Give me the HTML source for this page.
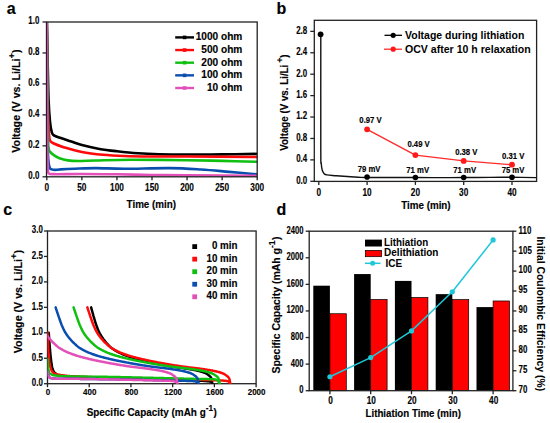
<!DOCTYPE html>
<html><head><meta charset="utf-8"><style>
html,body{margin:0;padding:0;background:#fff;width:550px;height:423px;overflow:hidden}
svg{display:block}
text{font-family:"Liberation Sans", sans-serif;stroke:#000;stroke-width:0.15px}
</style></head><body>
<svg width="550" height="423" viewBox="0 0 550 423">
<defs>
<clipPath id="clipa"><rect x="46.5" y="22.0" width="210.7" height="154.8"/></clipPath>
<clipPath id="clipc"><rect x="47.5" y="231.0" width="208.60000000000002" height="152.7"/></clipPath>
</defs>
<rect width="550" height="423" fill="#fff"/>
<text transform="translate(11.30 14.40)" font-size="16" text-anchor="middle" font-weight="bold" fill="#000" >a</text>
<g clip-path="url(#clipa)">
<path d="M46.80,22.00 C46.94,28.45 47.35,47.80 47.64,60.70 C47.93,73.60 48.17,89.34 48.55,99.40 C48.94,109.46 49.43,115.65 49.96,121.07 C50.48,126.49 51.07,129.53 51.71,131.91 C52.35,134.28 52.29,134.28 53.81,135.31 C55.33,136.35 57.90,137.07 60.83,138.10 C63.75,139.13 67.84,140.34 71.35,141.51 C74.85,142.67 77.19,143.83 81.87,145.07 C86.54,146.30 93.56,147.90 99.40,148.94 C105.24,149.97 110.50,150.54 116.93,151.26 C123.36,151.98 130.96,152.78 137.97,153.27 C144.99,153.76 150.83,153.99 159.01,154.20 C167.20,154.41 176.55,154.48 187.07,154.51 C197.59,154.53 210.44,154.46 222.13,154.35 C233.82,154.25 251.36,153.97 257.20,153.89" fill="none" stroke="#000" stroke-width="2.6" stroke-linejoin="round" stroke-linecap="round" />
<path d="M46.80,22.00 C46.89,29.74 47.15,53.48 47.36,68.44 C47.57,83.40 47.81,101.21 48.06,111.78 C48.32,122.36 48.59,127.14 48.90,131.91 C49.22,136.68 49.14,138.49 49.96,140.42 C50.77,142.36 51.42,142.36 53.81,143.52 C56.21,144.68 59.66,145.97 64.33,147.39 C69.01,148.81 75.44,150.79 81.87,152.03 C88.30,153.27 95.89,154.15 102.91,154.82 C109.92,155.49 115.76,155.77 123.95,156.06 C132.13,156.34 141.48,156.44 152.00,156.52 C162.52,156.60 169.53,156.44 187.07,156.52 C204.60,156.60 245.51,156.91 257.20,156.99" fill="none" stroke="#ff0a0a" stroke-width="2.6" stroke-linejoin="round" stroke-linecap="round" />
<path d="M46.80,22.00 C46.86,29.74 47.01,52.96 47.15,68.44 C47.29,83.92 47.44,101.98 47.64,114.88 C47.84,127.78 47.90,139.65 48.34,145.84 C48.79,152.03 49.39,150.48 50.31,152.03 C51.22,153.58 52.29,154.10 53.81,155.13 C55.33,156.16 57.09,157.35 59.42,158.22 C61.76,159.10 64.68,159.93 67.84,160.39 C71.00,160.86 73.68,160.98 78.36,161.01 C83.04,161.04 87.13,160.75 95.89,160.55 C104.66,160.34 115.76,159.82 130.96,159.77 C146.16,159.72 171.87,160.06 187.07,160.24 C202.26,160.42 210.44,160.60 222.13,160.86 C233.82,161.11 251.36,161.63 257.20,161.78" fill="none" stroke="#10c010" stroke-width="2.6" stroke-linejoin="round" stroke-linecap="round" />
<path d="M46.80,22.00 C46.85,32.32 46.96,64.57 47.08,83.92 C47.20,103.27 47.31,125.72 47.50,138.10 C47.69,150.48 47.85,153.32 48.20,158.22 C48.55,163.13 49.02,165.65 49.61,167.51 C50.19,169.37 50.77,168.98 51.71,169.37 C52.64,169.76 53.70,169.83 55.22,169.83 C56.74,169.83 57.55,169.55 60.83,169.37 C64.10,169.19 69.01,168.96 74.85,168.75 C80.70,168.54 87.71,168.13 95.89,168.13 C104.08,168.13 111.67,168.75 123.95,168.75 C136.22,168.75 156.68,168.00 169.53,168.13 C182.39,168.26 191.16,168.91 201.09,169.52 C211.03,170.14 219.80,171.05 229.15,171.85 C238.50,172.65 252.52,173.91 257.20,174.32" fill="none" stroke="#0a4fb0" stroke-width="2.6" stroke-linejoin="round" stroke-linecap="round" />
<path d="M46.80,22.00 C46.84,32.32 46.92,63.28 47.01,83.92 C47.10,104.56 47.22,131.65 47.36,145.84 C47.50,160.03 47.59,164.47 47.85,169.06 C48.11,173.65 47.91,172.54 48.90,173.39 C49.90,174.25 48.32,174.07 53.81,174.17 C59.31,174.27 71.35,173.99 81.87,174.01 C92.39,174.04 105.24,174.17 116.93,174.32 C128.62,174.48 140.31,174.79 152.00,174.94 C163.69,175.10 169.53,175.10 187.07,175.25 C204.60,175.41 245.51,175.77 257.20,175.87" fill="none" stroke="#e250b8" stroke-width="2.6" stroke-linejoin="round" stroke-linecap="round" />
</g>
<rect x="46.5" y="22.0" width="210.70" height="154.80" fill="none" stroke="#222" stroke-width="1.3"/>
<line x1="42.50" y1="176.80" x2="46.50" y2="176.80" stroke="#222" stroke-width="1.3" />
<text transform="translate(39.30 179.20) scale(0.79 1)" font-size="10.0" text-anchor="end" font-weight="bold" fill="#000" >0.0</text>
<line x1="42.50" y1="145.84" x2="46.50" y2="145.84" stroke="#222" stroke-width="1.3" />
<text transform="translate(39.30 148.24) scale(0.79 1)" font-size="10.0" text-anchor="end" font-weight="bold" fill="#000" >0.2</text>
<line x1="42.50" y1="114.88" x2="46.50" y2="114.88" stroke="#222" stroke-width="1.3" />
<text transform="translate(39.30 117.28) scale(0.79 1)" font-size="10.0" text-anchor="end" font-weight="bold" fill="#000" >0.4</text>
<line x1="42.50" y1="83.92" x2="46.50" y2="83.92" stroke="#222" stroke-width="1.3" />
<text transform="translate(39.30 86.32) scale(0.79 1)" font-size="10.0" text-anchor="end" font-weight="bold" fill="#000" >0.6</text>
<line x1="42.50" y1="52.96" x2="46.50" y2="52.96" stroke="#222" stroke-width="1.3" />
<text transform="translate(39.30 55.36) scale(0.79 1)" font-size="10.0" text-anchor="end" font-weight="bold" fill="#000" >0.8</text>
<line x1="42.50" y1="22.00" x2="46.50" y2="22.00" stroke="#222" stroke-width="1.3" />
<text transform="translate(39.30 24.40) scale(0.79 1)" font-size="10.0" text-anchor="end" font-weight="bold" fill="#000" >1.0</text>
<line x1="46.80" y1="176.80" x2="46.80" y2="180.30" stroke="#222" stroke-width="1.3" />
<text transform="translate(46.80 191.30) scale(0.81 1)" font-size="10.2" text-anchor="middle" font-weight="bold" fill="#000" >0</text>
<line x1="81.87" y1="176.80" x2="81.87" y2="180.30" stroke="#222" stroke-width="1.3" />
<text transform="translate(81.87 191.30) scale(0.81 1)" font-size="10.2" text-anchor="middle" font-weight="bold" fill="#000" >50</text>
<line x1="116.93" y1="176.80" x2="116.93" y2="180.30" stroke="#222" stroke-width="1.3" />
<text transform="translate(116.93 191.30) scale(0.81 1)" font-size="10.2" text-anchor="middle" font-weight="bold" fill="#000" >100</text>
<line x1="152.00" y1="176.80" x2="152.00" y2="180.30" stroke="#222" stroke-width="1.3" />
<text transform="translate(152.00 191.30) scale(0.81 1)" font-size="10.2" text-anchor="middle" font-weight="bold" fill="#000" >150</text>
<line x1="187.07" y1="176.80" x2="187.07" y2="180.30" stroke="#222" stroke-width="1.3" />
<text transform="translate(187.07 191.30) scale(0.81 1)" font-size="10.2" text-anchor="middle" font-weight="bold" fill="#000" >200</text>
<line x1="222.13" y1="176.80" x2="222.13" y2="180.30" stroke="#222" stroke-width="1.3" />
<text transform="translate(222.13 191.30) scale(0.81 1)" font-size="10.2" text-anchor="middle" font-weight="bold" fill="#000" >250</text>
<line x1="257.20" y1="176.80" x2="257.20" y2="180.30" stroke="#222" stroke-width="1.3" />
<text transform="translate(257.20 191.30) scale(0.81 1)" font-size="10.2" text-anchor="middle" font-weight="bold" fill="#000" >300</text>
<text transform="translate(151.30 208.00) scale(0.91 1)" font-size="10.8" text-anchor="middle" font-weight="bold" fill="#000" >Time (min)</text>
<text transform="translate(20.2 101.1) rotate(-90) scale(0.99 1)" font-size="10.8" text-anchor="middle" font-weight="bold">Voltage (V vs. Li/Li<tspan dy="-5.2" font-size="9" dx="0.3">+</tspan><tspan dy="5.2">)</tspan></text>
<line x1="175.20" y1="37.40" x2="194.00" y2="37.40" stroke="#000" stroke-width="2.4" />
<rect x="182.80" y="35.60" width="3.60" height="3.60" fill="#000" />
<text transform="translate(242.30 40.20)" font-size="10.1" text-anchor="end" font-weight="bold" fill="#000" >1000 ohm</text>
<line x1="175.20" y1="50.05" x2="194.00" y2="50.05" stroke="#ff0a0a" stroke-width="2.4" />
<rect x="182.80" y="48.25" width="3.60" height="3.60" fill="#ff0a0a" />
<text transform="translate(242.30 52.85)" font-size="10.1" text-anchor="end" font-weight="bold" fill="#000" >500 ohm</text>
<line x1="175.20" y1="62.70" x2="194.00" y2="62.70" stroke="#10c010" stroke-width="2.4" />
<rect x="182.80" y="60.90" width="3.60" height="3.60" fill="#10c010" />
<text transform="translate(242.30 65.50)" font-size="10.1" text-anchor="end" font-weight="bold" fill="#000" >200 ohm</text>
<line x1="175.20" y1="75.35" x2="194.00" y2="75.35" stroke="#0a4fb0" stroke-width="2.4" />
<rect x="182.80" y="73.55" width="3.60" height="3.60" fill="#0a4fb0" />
<text transform="translate(242.30 78.15)" font-size="10.1" text-anchor="end" font-weight="bold" fill="#000" >100 ohm</text>
<line x1="175.20" y1="88.00" x2="194.00" y2="88.00" stroke="#e250b8" stroke-width="2.4" />
<rect x="182.80" y="86.20" width="3.60" height="3.60" fill="#e250b8" />
<text transform="translate(242.30 90.80)" font-size="10.1" text-anchor="end" font-weight="bold" fill="#000" >10 ohm</text>
<text transform="translate(281.50 14.40)" font-size="16" text-anchor="middle" font-weight="bold" fill="#000" >b</text>
<rect x="314.3" y="20.3" width="222.30" height="161.10" fill="none" stroke="#222" stroke-width="1.3"/>
<line x1="310.30" y1="181.30" x2="314.30" y2="181.30" stroke="#222" stroke-width="1.3" />
<text transform="translate(307.20 183.70) scale(0.79 1)" font-size="10.0" text-anchor="end" font-weight="bold" fill="#000" >0.0</text>
<line x1="310.30" y1="159.88" x2="314.30" y2="159.88" stroke="#222" stroke-width="1.3" />
<text transform="translate(307.20 162.28) scale(0.79 1)" font-size="10.0" text-anchor="end" font-weight="bold" fill="#000" >0.4</text>
<line x1="310.30" y1="138.46" x2="314.30" y2="138.46" stroke="#222" stroke-width="1.3" />
<text transform="translate(307.20 140.86) scale(0.79 1)" font-size="10.0" text-anchor="end" font-weight="bold" fill="#000" >0.8</text>
<line x1="310.30" y1="117.04" x2="314.30" y2="117.04" stroke="#222" stroke-width="1.3" />
<text transform="translate(307.20 119.44) scale(0.79 1)" font-size="10.0" text-anchor="end" font-weight="bold" fill="#000" >1.2</text>
<line x1="310.30" y1="95.62" x2="314.30" y2="95.62" stroke="#222" stroke-width="1.3" />
<text transform="translate(307.20 98.02) scale(0.79 1)" font-size="10.0" text-anchor="end" font-weight="bold" fill="#000" >1.6</text>
<line x1="310.30" y1="74.20" x2="314.30" y2="74.20" stroke="#222" stroke-width="1.3" />
<text transform="translate(307.20 76.60) scale(0.79 1)" font-size="10.0" text-anchor="end" font-weight="bold" fill="#000" >2.0</text>
<line x1="310.30" y1="52.78" x2="314.30" y2="52.78" stroke="#222" stroke-width="1.3" />
<text transform="translate(307.20 55.18) scale(0.79 1)" font-size="10.0" text-anchor="end" font-weight="bold" fill="#000" >2.4</text>
<line x1="310.30" y1="31.36" x2="314.30" y2="31.36" stroke="#222" stroke-width="1.3" />
<text transform="translate(307.20 33.76) scale(0.79 1)" font-size="10.0" text-anchor="end" font-weight="bold" fill="#000" >2.8</text>
<line x1="318.80" y1="181.40" x2="318.80" y2="184.90" stroke="#222" stroke-width="1.3" />
<text transform="translate(318.80 195.70) scale(0.81 1)" font-size="10.2" text-anchor="middle" font-weight="bold" fill="#000" >0</text>
<line x1="367.10" y1="181.40" x2="367.10" y2="184.90" stroke="#222" stroke-width="1.3" />
<text transform="translate(367.10 195.70) scale(0.81 1)" font-size="10.2" text-anchor="middle" font-weight="bold" fill="#000" >10</text>
<line x1="415.40" y1="181.40" x2="415.40" y2="184.90" stroke="#222" stroke-width="1.3" />
<text transform="translate(415.40 195.70) scale(0.81 1)" font-size="10.2" text-anchor="middle" font-weight="bold" fill="#000" >20</text>
<line x1="463.70" y1="181.40" x2="463.70" y2="184.90" stroke="#222" stroke-width="1.3" />
<text transform="translate(463.70 195.70) scale(0.81 1)" font-size="10.2" text-anchor="middle" font-weight="bold" fill="#000" >30</text>
<line x1="512.00" y1="181.40" x2="512.00" y2="184.90" stroke="#222" stroke-width="1.3" />
<text transform="translate(512.00 195.70) scale(0.81 1)" font-size="10.2" text-anchor="middle" font-weight="bold" fill="#000" >40</text>
<text transform="translate(425.90 208.60) scale(0.91 1)" font-size="10.8" text-anchor="middle" font-weight="bold" fill="#000" >Time (min)</text>
<text transform="translate(287.9 102.6) rotate(-90) scale(0.905 1)" font-size="10.8" text-anchor="middle" font-weight="bold">Voltage (V vs. Li/Li<tspan dy="-5.2" font-size="9"> +</tspan><tspan dy="5.2">)</tspan></text>
<path d="M320.80,34.30 C320.80,53.58 320.73,128.55 320.80,150.00 C320.87,171.45 320.97,159.67 321.20,163.00 C321.43,166.33 321.73,168.25 322.20,170.00 C322.67,171.75 323.22,172.68 324.00,173.50 C324.78,174.32 324.83,174.53 326.90,174.90 C328.97,175.27 331.18,175.32 336.40,175.70 C341.62,176.08 353.12,176.90 358.20,177.20 C363.28,177.50 357.32,177.45 366.90,177.50 C376.48,177.55 403.52,177.48 415.70,177.50 C427.88,177.52 431.97,177.60 440.00,177.60 C448.03,177.60 455.57,177.53 463.90,177.50 C472.23,177.47 481.98,177.43 490.00,177.40 C498.02,177.37 504.33,177.27 512.00,177.30 C519.67,177.33 532.00,177.55 536.00,177.60" fill="none" stroke="#111" stroke-width="1.4" stroke-linejoin="round" stroke-linecap="round" />
<circle cx="367.10" cy="177.07" r="2.8" fill="#000"/>
<circle cx="415.40" cy="177.50" r="2.8" fill="#000"/>
<circle cx="463.70" cy="177.50" r="2.8" fill="#000"/>
<circle cx="512.00" cy="177.28" r="2.8" fill="#000"/>
<circle cx="320.60" cy="34.30" r="2.9" fill="#000"/>
<path d="M367.10,129.36 L415.40,155.06 L463.70,160.95 L512.00,164.70" fill="none" stroke="#ff2a2a" stroke-width="1.3" stroke-linejoin="round" stroke-linecap="round" />
<circle cx="367.10" cy="129.36" r="2.9" fill="#ff1a1a"/>
<circle cx="415.40" cy="155.06" r="2.9" fill="#ff1a1a"/>
<circle cx="463.70" cy="160.95" r="2.9" fill="#ff1a1a"/>
<circle cx="512.00" cy="164.70" r="2.9" fill="#ff1a1a"/>
<text transform="translate(370.50 122.50) scale(0.88 1)" font-size="8.8" text-anchor="middle" font-weight="bold" fill="#000" >0.97 V</text>
<text transform="translate(418.60 147.30) scale(0.88 1)" font-size="8.8" text-anchor="middle" font-weight="bold" fill="#000" >0.49 V</text>
<text transform="translate(466.30 154.90) scale(0.88 1)" font-size="8.8" text-anchor="middle" font-weight="bold" fill="#000" >0.38 V</text>
<text transform="translate(513.20 159.10) scale(0.88 1)" font-size="8.8" text-anchor="middle" font-weight="bold" fill="#000" >0.31 V</text>
<text transform="translate(369.10 172.20) scale(0.88 1)" font-size="8.8" text-anchor="middle" font-weight="bold" fill="#000" >79 mV</text>
<text transform="translate(417.70 172.70) scale(0.88 1)" font-size="8.8" text-anchor="middle" font-weight="bold" fill="#000" >71 mV</text>
<text transform="translate(464.70 172.70) scale(0.88 1)" font-size="8.8" text-anchor="middle" font-weight="bold" fill="#000" >71 mV</text>
<text transform="translate(513.00 173.20) scale(0.88 1)" font-size="8.8" text-anchor="middle" font-weight="bold" fill="#000" >75 mV</text>
<line x1="384.50" y1="35.30" x2="402.00" y2="35.30" stroke="#000" stroke-width="1.3" />
<circle cx="393.20" cy="35.30" r="2.6" fill="#000"/>
<line x1="384.00" y1="49.20" x2="402.00" y2="49.20" stroke="#ff2a2a" stroke-width="1.3" />
<circle cx="393.20" cy="49.20" r="2.6" fill="#ff1a1a"/>
<text transform="translate(405.00 38.60) scale(1.03 1)" font-size="10.2" text-anchor="start" font-weight="bold" fill="#000" style="stroke-width:0">Voltage during lithiation</text>
<text transform="translate(405.00 52.50) scale(1.037 1)" font-size="10.2" text-anchor="start" font-weight="bold" fill="#000" style="stroke-width:0">OCV after 10 h relaxation</text>
<text transform="translate(7.60 214.70)" font-size="16" text-anchor="middle" font-weight="bold" fill="#000" >c</text>
<rect x="47.5" y="231.0" width="208.60" height="152.70" fill="none" stroke="#222" stroke-width="1.3"/>
<line x1="44.00" y1="383.70" x2="47.50" y2="383.70" stroke="#222" stroke-width="1.3" />
<text transform="translate(42.80 386.10) scale(0.79 1)" font-size="10.0" text-anchor="end" font-weight="bold" fill="#000" >0.0</text>
<line x1="44.00" y1="358.25" x2="47.50" y2="358.25" stroke="#222" stroke-width="1.3" />
<text transform="translate(42.80 360.65) scale(0.79 1)" font-size="10.0" text-anchor="end" font-weight="bold" fill="#000" >0.5</text>
<line x1="44.00" y1="332.80" x2="47.50" y2="332.80" stroke="#222" stroke-width="1.3" />
<text transform="translate(42.80 335.20) scale(0.79 1)" font-size="10.0" text-anchor="end" font-weight="bold" fill="#000" >1.0</text>
<line x1="44.00" y1="307.35" x2="47.50" y2="307.35" stroke="#222" stroke-width="1.3" />
<text transform="translate(42.80 309.75) scale(0.79 1)" font-size="10.0" text-anchor="end" font-weight="bold" fill="#000" >1.5</text>
<line x1="44.00" y1="281.90" x2="47.50" y2="281.90" stroke="#222" stroke-width="1.3" />
<text transform="translate(42.80 284.30) scale(0.79 1)" font-size="10.0" text-anchor="end" font-weight="bold" fill="#000" >2.0</text>
<line x1="44.00" y1="256.45" x2="47.50" y2="256.45" stroke="#222" stroke-width="1.3" />
<text transform="translate(42.80 258.85) scale(0.79 1)" font-size="10.0" text-anchor="end" font-weight="bold" fill="#000" >2.5</text>
<line x1="44.00" y1="231.00" x2="47.50" y2="231.00" stroke="#222" stroke-width="1.3" />
<text transform="translate(42.80 233.40) scale(0.79 1)" font-size="10.0" text-anchor="end" font-weight="bold" fill="#000" >3.0</text>
<line x1="47.50" y1="383.70" x2="47.50" y2="387.20" stroke="#222" stroke-width="1.3" />
<text transform="translate(48.00 395.40) scale(0.81 1)" font-size="9.893999999999998" text-anchor="middle" font-weight="bold" fill="#000" >0</text>
<line x1="89.22" y1="383.70" x2="89.22" y2="387.20" stroke="#222" stroke-width="1.3" />
<text transform="translate(89.72 395.40) scale(0.81 1)" font-size="9.893999999999998" text-anchor="middle" font-weight="bold" fill="#000" >400</text>
<line x1="130.94" y1="383.70" x2="130.94" y2="387.20" stroke="#222" stroke-width="1.3" />
<text transform="translate(131.44 395.40) scale(0.81 1)" font-size="9.893999999999998" text-anchor="middle" font-weight="bold" fill="#000" >800</text>
<line x1="172.66" y1="383.70" x2="172.66" y2="387.20" stroke="#222" stroke-width="1.3" />
<text transform="translate(173.16 395.40) scale(0.81 1)" font-size="9.893999999999998" text-anchor="middle" font-weight="bold" fill="#000" >1200</text>
<line x1="214.38" y1="383.70" x2="214.38" y2="387.20" stroke="#222" stroke-width="1.3" />
<text transform="translate(214.88 395.40) scale(0.81 1)" font-size="9.893999999999998" text-anchor="middle" font-weight="bold" fill="#000" >1600</text>
<line x1="256.10" y1="383.70" x2="256.10" y2="387.20" stroke="#222" stroke-width="1.3" />
<text transform="translate(256.60 395.40) scale(0.81 1)" font-size="9.893999999999998" text-anchor="middle" font-weight="bold" fill="#000" >2000</text>
<text transform="translate(151.7 416.0) scale(0.92 1)" font-size="10.8" text-anchor="middle" font-weight="bold">Specific Capacity (mAh g<tspan dy="-5.2" font-size="9">-1</tspan><tspan dy="5.2" dx="0.4">)</tspan></text>
<text transform="translate(21.8 301.6) rotate(-90) scale(0.99 1)" font-size="10.8" text-anchor="middle" font-weight="bold">Voltage (V vs. Li/Li<tspan dy="-5.2" font-size="9" dx="0.3">+</tspan><tspan dy="5.2">)</tspan></text>
<g clip-path="url(#clipc)">
<line x1="48.7" y1="262" x2="48.7" y2="284" stroke="#bbb" stroke-width="0.8" stroke-dasharray="1 1.5"/>
<path d="M48.75,332.80 L49.58,344.64 L50.41,354.27 L50.84,358.25 L51.24,361.51 L52.06,367.05 L52.40,368.43 L52.89,369.80 L53.72,371.50 L54.49,372.50 L54.55,372.56 L55.38,373.31 L56.20,373.96 L57.03,374.49 L57.86,374.90 L58.69,375.19 L59.18,375.30 L59.52,375.36 L60.35,375.50 L61.17,375.63 L62.00,375.75 L62.83,375.86 L63.66,375.97 L64.49,376.06 L65.31,376.16 L66.14,376.24 L66.97,376.32 L67.80,376.39 L68.63,376.46 L69.45,376.52 L70.28,376.58 L71.11,376.63 L71.94,376.68 L72.77,376.73 L73.59,376.78 L74.42,376.82 L75.25,376.86 L76.08,376.90 L76.91,376.94 L77.74,376.98 L78.56,377.01 L79.39,377.05 L80.04,377.08 L80.22,377.09 L81.05,377.13 L81.88,377.17 L82.70,377.20 L83.53,377.24 L84.36,377.27 L85.19,377.31 L86.02,377.34 L86.84,377.37 L87.67,377.40 L88.50,377.44 L89.33,377.47 L90.16,377.49 L90.99,377.52 L91.81,377.55 L92.64,377.58 L93.47,377.61 L94.30,377.63 L95.13,377.66 L95.95,377.68 L96.78,377.71 L97.61,377.73 L98.44,377.76 L99.27,377.78 L100.09,377.80 L100.92,377.83 L101.75,377.85 L102.58,377.87 L103.41,377.89 L104.24,377.91 L105.06,377.93 L105.89,377.96 L106.72,377.98 L107.55,378.00 L108.38,378.02 L109.20,378.04 L110.03,378.06 L110.86,378.08 L111.69,378.10 L112.52,378.12 L113.34,378.13 L114.17,378.15 L115.00,378.17 L115.83,378.19 L116.66,378.21 L117.48,378.23 L118.31,378.25 L119.14,378.27 L119.97,378.29 L120.80,378.31 L121.63,378.33 L122.45,378.35 L123.28,378.37 L124.11,378.39 L124.94,378.41 L125.77,378.43 L126.59,378.46 L127.42,378.48 L128.25,378.50 L129.08,378.52 L129.91,378.54 L130.73,378.57 L131.56,378.59 L132.19,378.61 L132.39,378.62 L133.22,378.64 L134.05,378.66 L134.88,378.69 L135.70,378.71 L136.53,378.73 L137.36,378.76 L138.19,378.78 L139.02,378.80 L139.84,378.83 L140.67,378.85 L141.50,378.87 L142.33,378.90 L143.16,378.92 L143.98,378.94 L144.81,378.96 L145.64,378.99 L146.47,379.01 L147.30,379.03 L148.12,379.05 L148.95,379.08 L149.78,379.10 L150.61,379.12 L151.44,379.14 L152.27,379.16 L153.09,379.19 L153.92,379.21 L154.75,379.23 L155.58,379.25 L156.41,379.28 L157.23,379.30 L158.06,379.32 L158.89,379.35 L159.72,379.37 L160.55,379.39 L161.37,379.41 L162.20,379.44 L163.03,379.46 L163.86,379.48 L164.69,379.51 L165.52,379.53 L166.34,379.56 L167.17,379.58 L168.00,379.60 L168.83,379.63 L169.66,379.65 L170.48,379.68 L171.31,379.70 L172.14,379.73 L172.97,379.76 L173.80,379.78 L174.62,379.81 L175.45,379.83 L176.28,379.86 L177.11,379.89 L177.94,379.92 L178.76,379.94 L179.59,379.97 L180.42,380.00 L181.25,380.03 L182.08,380.06 L182.91,380.09 L183.73,380.12 L184.34,380.14 L184.56,380.14 L185.39,380.17 L186.22,380.20 L187.05,380.23 L187.87,380.26 L188.70,380.29 L189.53,380.31 L190.36,380.34 L191.19,380.37 L192.01,380.39 L192.84,380.42 L193.67,380.45 L194.50,380.48 L195.33,380.51 L196.16,380.54 L196.98,380.58 L197.81,380.61 L198.64,380.65 L199.47,380.68 L200.30,380.72 L201.12,380.76 L201.95,380.81 L202.78,380.85 L203.61,380.90 L204.44,380.95 L205.26,381.01 L206.09,381.07 L206.92,381.13 L207.29,381.15 L207.75,381.19 L208.58,381.28 L209.41,381.40 L210.23,381.53 L210.94,381.66 L211.06,381.69 L211.89,381.86" fill="none" stroke="#000" stroke-width="2.5" stroke-linejoin="round" stroke-linecap="round" />
<path d="M212.29,383.70 L211.81,379.63 L211.68,379.25 L211.08,377.82 L210.47,376.92 L209.86,376.29 L209.63,376.06 L209.25,375.70 L208.64,375.17 L208.03,374.68 L207.42,374.25 L206.81,373.86 L206.20,373.51 L205.59,373.21 L204.99,372.94 L204.54,372.76 L204.38,372.70 L203.77,372.47 L203.16,372.26 L202.55,372.06 L201.94,371.86 L201.33,371.68 L200.72,371.51 L200.11,371.34 L199.50,371.18 L198.90,371.02 L198.29,370.88 L197.68,370.74 L197.07,370.60 L196.46,370.47 L195.85,370.34 L195.24,370.22 L194.63,370.10 L194.02,369.98 L193.41,369.87 L192.81,369.76 L192.20,369.64 L191.59,369.53 L190.98,369.42 L190.37,369.31 L189.76,369.20 L189.75,369.19 L189.15,369.08 L188.54,368.97 L187.93,368.87 L187.32,368.77 L186.71,368.67 L186.11,368.57 L185.50,368.48 L184.89,368.39 L184.28,368.30 L183.67,368.21 L183.06,368.12 L182.45,368.03 L181.84,367.95 L181.23,367.87 L180.62,367.78 L180.02,367.70 L179.41,367.62 L178.80,367.54 L178.19,367.45 L177.58,367.37 L176.97,367.29 L176.36,367.20 L175.75,367.11 L175.14,367.03 L174.53,366.94 L173.93,366.85 L173.32,366.75 L172.71,366.66 L172.10,366.56 L171.49,366.46 L171.09,366.39 L170.88,366.36 L170.27,366.25 L169.66,366.15 L169.05,366.04 L168.44,365.93 L167.83,365.82 L167.23,365.71 L166.62,365.60 L166.01,365.49 L165.40,365.38 L164.79,365.26 L164.18,365.15 L163.57,365.03 L162.96,364.91 L162.35,364.79 L161.74,364.67 L161.14,364.55 L160.53,364.43 L159.92,364.31 L159.31,364.19 L158.70,364.06 L158.09,363.94 L157.48,363.81 L156.87,363.68 L156.26,363.55 L155.65,363.42 L155.05,363.29 L154.44,363.16 L153.83,363.03 L153.22,362.90 L152.91,362.83 L152.61,362.77 L152.00,362.63 L151.39,362.50 L150.78,362.36 L150.17,362.23 L149.56,362.09 L148.96,361.95 L148.35,361.81 L147.74,361.67 L147.13,361.53 L146.52,361.39 L145.91,361.25 L145.30,361.11 L144.69,360.96 L144.08,360.82 L143.47,360.67 L142.86,360.52 L142.26,360.37 L141.65,360.22 L141.04,360.06 L140.43,359.91 L139.82,359.75 L139.21,359.59 L138.60,359.43 L137.99,359.26 L137.38,359.10 L136.77,358.93 L136.17,358.76 L135.56,358.59 L134.95,358.41 L134.34,358.24 L133.73,358.06 L133.52,358.00 L133.12,357.88 L132.51,357.69 L131.90,357.51 L131.29,357.32 L130.68,357.13 L130.08,356.93 L129.47,356.74 L128.86,356.53 L128.25,356.33 L127.64,356.12 L127.03,355.91 L126.42,355.69 L125.81,355.46 L125.20,355.23 L124.59,355.00 L123.98,354.76 L123.38,354.51 L122.77,354.26 L122.16,354.00 L121.55,353.74 L121.40,353.67 L120.94,353.46 L120.33,353.18 L119.72,352.90 L119.11,352.60 L118.50,352.29 L117.89,351.98 L117.29,351.65 L116.68,351.32 L116.07,350.97 L115.46,350.61 L114.85,350.24 L114.24,349.85 L113.63,349.45 L113.02,349.03 L112.41,348.60 L111.80,348.15 L111.70,348.07 L111.20,347.68 L110.59,347.17 L109.98,346.62 L109.37,346.05 L108.76,345.44 L108.15,344.80 L107.54,344.14 L106.93,343.46 L106.32,342.75 L105.71,342.02 L105.11,341.28 L104.50,340.52 L104.43,340.44 L103.89,339.74 L103.28,338.93 L102.67,338.08 L102.06,337.19 L101.45,336.26 L100.84,335.27 L100.23,334.22 L99.62,333.11 L99.46,332.80 L99.01,331.91 L98.41,330.57 L97.80,329.11 L97.19,327.56 L96.58,325.91 L96.31,325.17 L95.97,324.18 L95.36,322.28 L94.75,320.25 L94.14,318.15 L93.53,316.04 L93.52,316.00 L92.92,313.94 L92.32,311.78 L91.71,309.59 L91.10,307.35" fill="none" stroke="#000" stroke-width="2.5" stroke-linejoin="round" stroke-linecap="round" />
<path d="M47.50,332.80 L48.42,351.42 L48.54,353.16 L49.34,361.63 L49.59,363.34 L50.25,366.62 L51.15,369.45 L51.17,369.50 L52.09,371.36 L53.01,372.58 L53.24,372.76 L53.93,373.18 L54.85,373.63 L55.76,373.98 L56.68,374.25 L57.60,374.47 L57.93,374.54 L58.52,374.65 L59.44,374.83 L60.36,374.99 L61.27,375.14 L62.19,375.29 L63.11,375.42 L64.03,375.54 L64.95,375.66 L65.87,375.77 L66.78,375.86 L67.70,375.96 L68.62,376.04 L69.54,376.11 L70.46,376.18 L71.37,376.25 L72.29,376.31 L72.53,376.32 L73.21,376.36 L74.13,376.41 L75.05,376.46 L75.97,376.51 L76.88,376.55 L77.80,376.59 L78.72,376.64 L79.64,376.68 L80.56,376.72 L81.48,376.76 L82.39,376.79 L83.31,376.83 L84.23,376.86 L85.15,376.90 L86.07,376.93 L86.99,376.96 L87.90,376.99 L88.82,377.02 L89.74,377.05 L90.66,377.07 L91.58,377.10 L92.49,377.13 L93.41,377.15 L94.33,377.18 L95.25,377.20 L96.17,377.23 L97.09,377.25 L98.00,377.28 L98.92,377.30 L99.84,377.32 L100.76,377.35 L101.68,377.37 L102.60,377.39 L103.51,377.42 L104.43,377.44 L105.35,377.46 L106.27,377.49 L107.19,377.51 L108.11,377.54 L109.02,377.56 L109.94,377.59 L110.08,377.59 L110.86,377.61 L111.78,377.64 L112.70,377.67 L113.61,377.69 L114.53,377.72 L115.45,377.74 L116.37,377.76 L117.29,377.79 L118.21,377.81 L119.12,377.84 L120.04,377.86 L120.96,377.88 L121.88,377.90 L122.80,377.93 L123.72,377.95 L124.63,377.97 L125.55,377.99 L126.47,378.02 L127.39,378.04 L128.31,378.06 L129.23,378.08 L130.14,378.10 L131.06,378.12 L131.98,378.15 L132.90,378.17 L133.82,378.19 L134.73,378.21 L135.65,378.23 L136.57,378.25 L137.49,378.27 L138.41,378.30 L139.33,378.32 L140.24,378.34 L141.16,378.36 L142.08,378.38 L143.00,378.40 L143.92,378.42 L144.84,378.44 L145.75,378.47 L146.67,378.49 L147.59,378.51 L148.51,378.53 L149.43,378.55 L150.35,378.57 L151.26,378.60 L151.80,378.61 L152.18,378.62 L153.10,378.64 L154.02,378.66 L154.94,378.69 L155.85,378.71 L156.77,378.73 L157.69,378.75 L158.61,378.77 L159.53,378.79 L160.45,378.82 L161.36,378.84 L162.28,378.86 L163.20,378.88 L164.12,378.90 L165.04,378.92 L165.96,378.94 L166.87,378.96 L167.79,378.98 L168.71,379.01 L169.63,379.03 L170.55,379.05 L171.47,379.07 L172.38,379.09 L173.30,379.11 L174.22,379.13 L175.14,379.16 L176.06,379.18 L176.97,379.20 L177.89,379.22 L178.81,379.24 L179.73,379.27 L180.65,379.29 L181.57,379.31 L182.48,379.33 L183.40,379.36 L184.32,379.38 L185.24,379.40 L186.16,379.43 L187.08,379.45 L187.99,379.48 L188.91,379.50 L189.83,379.53 L190.75,379.55 L191.67,379.58 L192.58,379.60 L193.50,379.63 L193.52,379.63 L194.42,379.65 L195.34,379.68 L196.26,379.70 L197.18,379.73 L198.09,379.75 L199.01,379.77 L199.93,379.79 L200.85,379.81 L201.77,379.83 L202.69,379.86 L203.60,379.88 L204.52,379.90 L205.44,379.92 L206.36,379.95 L207.28,379.97 L208.20,379.99 L209.11,380.02 L210.03,380.04 L210.95,380.07 L211.87,380.10 L212.79,380.13 L213.70,380.16 L214.62,380.20 L215.54,380.23 L216.46,380.27 L217.38,380.31 L218.30,380.35 L219.21,380.39 L220.13,380.44 L221.05,380.49 L221.97,380.54 L222.89,380.59 L223.77,380.65 L223.81,380.65 L224.72,380.72 L225.64,380.81 L226.56,380.94 L227.48,381.12 L227.63,381.15 L228.40,381.45 L229.32,382.10 L229.40,382.17 L230.23,383.70" fill="none" stroke="#ff0a0a" stroke-width="2.5" stroke-linejoin="round" stroke-linecap="round" />
<path d="M230.23,383.70 L229.66,379.63 L229.52,379.25 L228.80,377.82 L228.08,376.92 L227.36,376.29 L227.09,376.06 L226.64,375.70 L225.93,375.17 L225.21,374.68 L224.49,374.25 L223.77,373.86 L223.05,373.51 L222.34,373.21 L221.62,372.94 L221.09,372.76 L220.90,372.70 L220.18,372.47 L219.46,372.26 L218.74,372.06 L218.03,371.86 L217.31,371.68 L216.59,371.51 L215.87,371.34 L215.15,371.18 L214.44,371.02 L213.72,370.88 L213.00,370.74 L212.28,370.60 L211.56,370.47 L210.85,370.34 L210.13,370.22 L209.41,370.10 L208.69,369.98 L207.97,369.87 L207.26,369.76 L206.54,369.64 L205.82,369.53 L205.10,369.42 L204.38,369.31 L203.67,369.20 L203.66,369.19 L202.95,369.08 L202.23,368.97 L201.51,368.87 L200.79,368.77 L200.08,368.67 L199.36,368.57 L198.64,368.48 L197.92,368.39 L197.20,368.30 L196.49,368.21 L195.77,368.12 L195.05,368.03 L194.33,367.95 L193.61,367.87 L192.90,367.78 L192.18,367.70 L191.46,367.62 L190.74,367.54 L190.02,367.45 L189.31,367.37 L188.59,367.29 L187.87,367.20 L187.15,367.11 L186.43,367.03 L185.71,366.94 L185.00,366.85 L184.28,366.75 L183.56,366.66 L182.84,366.56 L182.12,366.46 L181.65,366.39 L181.41,366.36 L180.69,366.25 L179.97,366.15 L179.25,366.04 L178.53,365.93 L177.82,365.82 L177.10,365.71 L176.38,365.60 L175.66,365.49 L174.94,365.38 L174.23,365.26 L173.51,365.15 L172.79,365.03 L172.07,364.91 L171.35,364.79 L170.64,364.67 L169.92,364.55 L169.20,364.43 L168.48,364.31 L167.76,364.19 L167.05,364.06 L166.33,363.94 L165.61,363.81 L164.89,363.68 L164.17,363.55 L163.46,363.42 L162.74,363.29 L162.02,363.16 L161.30,363.03 L160.58,362.90 L160.22,362.83 L159.87,362.77 L159.15,362.63 L158.43,362.50 L157.71,362.36 L156.99,362.23 L156.27,362.09 L155.56,361.95 L154.84,361.81 L154.12,361.67 L153.40,361.53 L152.68,361.39 L151.97,361.25 L151.25,361.11 L150.53,360.96 L149.81,360.82 L149.09,360.67 L148.38,360.52 L147.66,360.37 L146.94,360.22 L146.22,360.06 L145.50,359.91 L144.79,359.75 L144.07,359.59 L143.35,359.43 L142.63,359.26 L141.91,359.10 L141.20,358.93 L140.48,358.76 L139.76,358.59 L139.04,358.41 L138.32,358.24 L137.61,358.06 L137.35,358.00 L136.89,357.88 L136.17,357.69 L135.45,357.51 L134.73,357.32 L134.02,357.13 L133.30,356.93 L132.58,356.74 L131.86,356.53 L131.14,356.33 L130.43,356.12 L129.71,355.91 L128.99,355.69 L128.27,355.46 L127.55,355.23 L126.84,355.00 L126.12,354.76 L125.40,354.51 L124.68,354.26 L123.96,354.00 L123.24,353.74 L123.07,353.67 L122.53,353.46 L121.81,353.18 L121.09,352.90 L120.37,352.60 L119.65,352.29 L118.94,351.98 L118.22,351.65 L117.50,351.32 L116.78,350.97 L116.06,350.61 L115.35,350.24 L114.63,349.85 L113.91,349.45 L113.19,349.03 L112.47,348.60 L111.76,348.15 L111.63,348.07 L111.04,347.68 L110.32,347.17 L109.60,346.62 L108.88,346.05 L108.17,345.44 L107.45,344.80 L106.73,344.14 L106.01,343.46 L105.29,342.75 L104.58,342.02 L103.86,341.28 L103.14,340.52 L103.06,340.44 L102.42,339.74 L101.70,338.93 L100.99,338.08 L100.27,337.19 L99.55,336.26 L98.83,335.27 L98.11,334.22 L97.40,333.11 L97.20,332.80 L96.68,331.91 L95.96,330.57 L95.24,329.11 L94.52,327.56 L93.81,325.91 L93.49,325.17 L93.09,324.18 L92.37,322.28 L91.65,320.25 L90.93,318.15 L90.21,316.04 L90.20,316.00 L89.50,313.94 L88.78,311.78 L88.06,309.59 L87.34,307.35" fill="none" stroke="#ff0a0a" stroke-width="2.5" stroke-linejoin="round" stroke-linecap="round" />
<path d="M47.50,358.76 L48.13,368.43 L48.36,369.69 L49.23,372.71 L49.79,373.52 L50.09,373.73 L50.96,374.24 L51.82,374.64 L52.69,374.95 L53.55,375.19 L54.42,375.36 L55.28,375.49 L55.84,375.56 L56.15,375.59 L57.01,375.68 L57.88,375.76 L58.74,375.84 L59.61,375.91 L60.47,375.97 L61.34,376.03 L62.20,376.08 L63.07,376.13 L63.93,376.17 L64.80,376.20 L65.66,376.24 L66.53,376.27 L67.39,376.29 L68.26,376.32 L68.36,376.32 L69.12,376.34 L69.98,376.36 L70.85,376.38 L71.71,376.40 L72.58,376.41 L73.44,376.43 L74.31,376.45 L75.17,376.46 L76.04,376.48 L76.90,376.49 L77.77,376.50 L78.63,376.52 L79.50,376.53 L80.36,376.54 L81.23,376.55 L82.09,376.56 L82.96,376.57 L83.82,376.58 L84.69,376.59 L85.55,376.60 L86.42,376.61 L87.28,376.62 L88.15,376.63 L89.01,376.64 L89.88,376.65 L90.74,376.65 L91.60,376.66 L92.47,376.67 L93.33,376.68 L94.20,376.69 L95.06,376.70 L95.93,376.71 L96.79,376.72 L97.66,376.73 L98.52,376.74 L99.39,376.75 L100.25,376.76 L101.12,376.77 L101.98,376.78 L102.85,376.80 L103.71,376.81 L104.58,376.82 L104.87,376.83 L105.44,376.84 L106.31,376.85 L107.17,376.87 L108.04,376.88 L108.90,376.90 L109.77,376.92 L110.63,376.93 L111.50,376.95 L112.36,376.96 L113.22,376.98 L114.09,377.00 L114.95,377.01 L115.82,377.03 L116.68,377.05 L117.55,377.07 L118.41,377.09 L119.28,377.10 L120.14,377.12 L121.01,377.14 L121.87,377.16 L122.74,377.18 L123.60,377.20 L124.47,377.22 L125.33,377.23 L126.20,377.25 L127.06,377.27 L127.93,377.29 L128.79,377.31 L129.66,377.33 L130.52,377.35 L131.39,377.37 L132.25,377.39 L133.12,377.41 L133.98,377.43 L134.84,377.45 L135.71,377.47 L136.57,377.49 L137.44,377.51 L138.30,377.53 L139.17,377.55 L140.03,377.57 L140.90,377.59 L141.76,377.61 L142.63,377.63 L143.49,377.65 L144.36,377.67 L145.22,377.69 L146.09,377.71 L146.95,377.73 L147.82,377.75 L148.68,377.77 L149.55,377.79 L150.41,377.81 L151.28,377.83 L151.80,377.85 L152.14,377.85 L153.01,377.87 L153.87,377.89 L154.74,377.91 L155.60,377.93 L156.46,377.96 L157.33,377.98 L158.19,378.00 L159.06,378.02 L159.92,378.04 L160.79,378.06 L161.65,378.08 L162.52,378.10 L163.38,378.12 L164.25,378.14 L165.11,378.16 L165.98,378.18 L166.84,378.20 L167.71,378.23 L168.57,378.25 L169.44,378.27 L170.30,378.29 L171.17,378.31 L172.03,378.33 L172.90,378.35 L173.76,378.38 L174.63,378.40 L175.49,378.42 L176.36,378.44 L177.22,378.46 L178.08,378.48 L178.95,378.50 L179.81,378.53 L180.68,378.55 L181.54,378.57 L182.41,378.59 L183.27,378.61 L184.14,378.63 L185.00,378.65 L185.87,378.68 L186.73,378.70 L187.60,378.72 L188.46,378.74 L189.33,378.76 L190.19,378.78 L191.06,378.80 L191.92,378.83 L192.79,378.85 L193.52,378.86 L193.65,378.87 L194.52,378.89 L195.38,378.91 L196.25,378.92 L197.11,378.94 L197.98,378.95 L198.84,378.96 L199.70,378.98 L200.57,378.99 L201.43,379.00 L202.30,379.01 L203.16,379.03 L204.03,379.04 L204.89,379.06 L205.76,379.07 L206.62,379.09 L207.49,379.11 L208.35,379.14 L209.22,379.16 L210.08,379.19 L210.95,379.22 L211.81,379.25 L212.68,379.29 L213.54,379.33 L214.38,379.37 L214.41,379.37 L215.27,379.46 L216.14,379.63 L216.99,379.88 L217.00,379.89 L217.87,380.75 L218.73,382.13 L218.76,382.17 L219.60,383.70" fill="none" stroke="#10c010" stroke-width="2.5" stroke-linejoin="round" stroke-linecap="round" />
<path d="M219.60,383.70 L219.01,379.63 L218.86,379.25 L218.13,377.82 L217.39,376.92 L216.66,376.29 L216.38,376.06 L215.93,375.70 L215.19,375.17 L214.46,374.68 L213.72,374.25 L212.99,373.86 L212.26,373.51 L211.52,373.21 L210.79,372.94 L210.25,372.76 L210.06,372.70 L209.32,372.47 L208.59,372.26 L207.85,372.06 L207.12,371.86 L206.39,371.68 L205.65,371.51 L204.92,371.34 L204.19,371.18 L203.45,371.02 L202.72,370.88 L201.98,370.74 L201.25,370.60 L200.52,370.47 L199.78,370.34 L199.05,370.22 L198.32,370.10 L197.58,369.98 L196.85,369.87 L196.11,369.76 L195.38,369.64 L194.65,369.53 L193.91,369.42 L193.18,369.31 L192.45,369.20 L192.44,369.19 L191.71,369.08 L190.98,368.97 L190.24,368.87 L189.51,368.77 L188.78,368.67 L188.04,368.57 L187.31,368.48 L186.58,368.39 L185.84,368.30 L185.11,368.21 L184.37,368.12 L183.64,368.03 L182.91,367.95 L182.17,367.87 L181.44,367.78 L180.71,367.70 L179.97,367.62 L179.24,367.54 L178.50,367.45 L177.77,367.37 L177.04,367.29 L176.30,367.20 L175.57,367.11 L174.84,367.03 L174.10,366.94 L173.37,366.85 L172.63,366.75 L171.90,366.66 L171.17,366.56 L170.43,366.46 L169.95,366.39 L169.70,366.36 L168.96,366.25 L168.23,366.15 L167.50,366.04 L166.76,365.93 L166.03,365.82 L165.30,365.71 L164.56,365.60 L163.83,365.49 L163.09,365.38 L162.36,365.26 L161.63,365.15 L160.89,365.03 L160.16,364.91 L159.43,364.79 L158.69,364.67 L157.96,364.55 L157.22,364.43 L156.49,364.31 L155.76,364.19 L155.02,364.06 L154.29,363.94 L153.56,363.81 L152.82,363.68 L152.09,363.55 L151.35,363.42 L150.62,363.29 L149.89,363.16 L149.15,363.03 L148.42,362.90 L148.05,362.83 L147.69,362.77 L146.95,362.63 L146.22,362.50 L145.48,362.36 L144.75,362.23 L144.02,362.09 L143.28,361.95 L142.55,361.81 L141.82,361.67 L141.08,361.53 L140.35,361.39 L139.61,361.25 L138.88,361.11 L138.15,360.96 L137.41,360.82 L136.68,360.67 L135.95,360.52 L135.21,360.37 L134.48,360.22 L133.74,360.06 L133.01,359.91 L132.28,359.75 L131.54,359.59 L130.81,359.43 L130.08,359.26 L129.34,359.10 L128.61,358.93 L127.87,358.76 L127.14,358.59 L126.41,358.41 L125.67,358.24 L124.94,358.06 L124.68,358.00 L124.21,357.88 L123.47,357.69 L122.74,357.51 L122.00,357.32 L121.27,357.13 L120.54,356.93 L119.80,356.74 L119.07,356.53 L118.33,356.33 L117.60,356.12 L116.87,355.91 L116.13,355.69 L115.40,355.46 L114.67,355.23 L113.93,355.00 L113.20,354.76 L112.46,354.51 L111.73,354.26 L111.00,354.00 L110.26,353.74 L110.08,353.67 L109.53,353.46 L108.80,353.18 L108.06,352.90 L107.33,352.60 L106.59,352.29 L105.86,351.98 L105.13,351.65 L104.39,351.32 L103.66,350.97 L102.93,350.61 L102.19,350.24 L101.46,349.85 L100.72,349.45 L99.99,349.03 L99.26,348.60 L98.52,348.15 L98.40,348.07 L97.79,347.68 L97.06,347.17 L96.32,346.62 L95.59,346.05 L94.85,345.44 L94.12,344.80 L93.39,344.14 L92.65,343.46 L91.92,342.75 L91.19,342.02 L90.45,341.28 L89.72,340.52 L89.64,340.44 L88.98,339.74 L88.25,338.93 L87.52,338.08 L86.78,337.19 L86.05,336.26 L85.32,335.27 L84.58,334.22 L83.85,333.11 L83.65,332.80 L83.11,331.91 L82.38,330.57 L81.65,329.11 L80.91,327.56 L80.18,325.91 L79.85,325.17 L79.45,324.18 L78.71,322.28 L77.98,320.25 L77.24,318.15 L76.51,316.04 L76.50,316.00 L75.78,313.94 L75.04,311.78 L74.31,309.59 L73.58,307.35" fill="none" stroke="#10c010" stroke-width="2.5" stroke-linejoin="round" stroke-linecap="round" />
<path d="M47.50,371.48 L48.26,375.28 L48.54,376.06 L49.02,376.80 L49.78,377.65 L50.54,378.08 L50.63,378.10 L51.29,378.22 L52.05,378.34 L52.81,378.43 L53.57,378.50 L54.33,378.55 L55.09,378.59 L55.84,378.61 L55.85,378.61 L56.61,378.63 L57.37,378.64 L58.12,378.66 L58.88,378.67 L59.64,378.69 L60.40,378.70 L61.16,378.71 L61.92,378.72 L62.68,378.73 L63.44,378.74 L64.20,378.74 L64.96,378.75 L65.71,378.76 L66.47,378.76 L67.23,378.77 L67.99,378.78 L68.75,378.78 L69.51,378.79 L70.27,378.79 L71.03,378.80 L71.79,378.80 L72.54,378.81 L73.30,378.81 L74.06,378.82 L74.82,378.82 L75.58,378.83 L76.34,378.84 L77.10,378.85 L77.86,378.85 L78.62,378.86 L78.79,378.86 L79.37,378.87 L80.13,378.88 L80.89,378.89 L81.65,378.90 L82.41,378.91 L83.17,378.92 L83.93,378.93 L84.69,378.94 L85.45,378.95 L86.21,378.96 L86.96,378.97 L87.72,378.98 L88.48,378.99 L89.24,379.00 L90.00,379.01 L90.76,379.02 L91.52,379.03 L92.28,379.04 L93.04,379.05 L93.79,379.06 L94.55,379.07 L95.31,379.08 L96.07,379.09 L96.83,379.10 L97.59,379.11 L98.35,379.12 L99.11,379.13 L99.87,379.14 L100.62,379.15 L101.38,379.16 L102.14,379.17 L102.90,379.18 L103.66,379.19 L104.42,379.20 L105.18,379.21 L105.94,379.22 L106.70,379.23 L107.46,379.24 L108.21,379.26 L108.97,379.27 L109.73,379.28 L110.49,379.29 L111.25,379.30 L112.01,379.31 L112.77,379.32 L113.53,379.33 L114.29,379.35 L115.04,379.36 L115.80,379.37 L116.56,379.38 L117.32,379.39 L118.08,379.41 L118.84,379.42 L119.60,379.43 L120.36,379.44 L121.12,379.46 L121.87,379.47 L122.63,379.48 L123.39,379.49 L124.15,379.51 L124.91,379.52 L125.67,379.53 L126.43,379.55 L127.19,379.56 L127.95,379.57 L128.71,379.59 L129.46,379.60 L130.22,379.61 L130.94,379.63 L130.98,379.63 L131.74,379.64 L132.50,379.66 L133.26,379.67 L134.02,379.69 L134.78,379.70 L135.54,379.72 L136.29,379.73 L137.05,379.75 L137.81,379.77 L138.57,379.78 L139.33,379.80 L140.09,379.82 L140.85,379.84 L141.61,379.85 L142.37,379.87 L143.12,379.89 L143.88,379.91 L144.64,379.93 L145.40,379.94 L146.16,379.96 L146.92,379.98 L147.68,380.00 L148.44,380.02 L149.20,380.04 L149.96,380.06 L150.71,380.08 L151.47,380.10 L152.23,380.12 L152.99,380.14 L153.75,380.16 L154.51,380.18 L155.27,380.20 L156.03,380.22 L156.79,380.24 L157.54,380.26 L158.30,380.28 L159.06,380.30 L159.82,380.32 L160.58,380.34 L161.34,380.36 L162.10,380.38 L162.86,380.40 L163.62,380.42 L164.37,380.44 L165.13,380.46 L165.89,380.48 L166.65,380.49 L167.41,380.51 L168.17,380.53 L168.93,380.55 L169.69,380.57 L170.45,380.59 L171.21,380.61 L171.96,380.63 L172.66,380.65 L172.72,380.65 L173.48,380.67 L174.24,380.68 L175.00,380.70 L175.76,380.71 L176.52,380.72 L177.28,380.73 L178.04,380.75 L178.79,380.76 L179.55,380.77 L180.31,380.78 L181.07,380.79 L181.83,380.80 L182.59,380.81 L183.35,380.82 L184.11,380.84 L184.87,380.85 L185.62,380.87 L186.38,380.89 L187.14,380.90 L187.90,380.92 L188.66,380.95 L189.42,380.97 L190.18,381.00 L190.94,381.03 L191.70,381.06 L192.45,381.10 L193.21,381.14 L193.52,381.15 L193.97,381.20 L194.73,381.36 L195.49,381.55 L195.92,381.66 L196.25,381.74 L197.01,381.90 L197.69,382.17 L197.77,382.23 L198.53,383.70" fill="none" stroke="#0a4fb0" stroke-width="2.5" stroke-linejoin="round" stroke-linecap="round" />
<path d="M198.53,383.70 L197.95,379.63 L197.81,379.25 L197.09,377.82 L196.37,376.92 L195.65,376.29 L195.38,376.06 L194.94,375.70 L194.22,375.17 L193.50,374.68 L192.78,374.25 L192.06,373.86 L191.35,373.51 L190.63,373.21 L189.91,372.94 L189.38,372.76 L189.19,372.70 L188.47,372.47 L187.76,372.26 L187.04,372.06 L186.32,371.86 L185.60,371.68 L184.88,371.51 L184.17,371.34 L183.45,371.18 L182.73,371.02 L182.01,370.88 L181.29,370.74 L180.58,370.60 L179.86,370.47 L179.14,370.34 L178.42,370.22 L177.70,370.10 L176.99,369.98 L176.27,369.87 L175.55,369.76 L174.83,369.64 L174.11,369.53 L173.39,369.42 L172.68,369.31 L171.96,369.20 L171.95,369.19 L171.24,369.08 L170.52,368.97 L169.80,368.87 L169.09,368.77 L168.37,368.67 L167.65,368.57 L166.93,368.48 L166.21,368.39 L165.50,368.30 L164.78,368.21 L164.06,368.12 L163.34,368.03 L162.62,367.95 L161.91,367.87 L161.19,367.78 L160.47,367.70 L159.75,367.62 L159.03,367.54 L158.32,367.45 L157.60,367.37 L156.88,367.29 L156.16,367.20 L155.44,367.11 L154.73,367.03 L154.01,366.94 L153.29,366.85 L152.57,366.75 L151.85,366.66 L151.14,366.56 L150.42,366.46 L149.94,366.39 L149.70,366.36 L148.98,366.25 L148.26,366.15 L147.55,366.04 L146.83,365.93 L146.11,365.82 L145.39,365.71 L144.67,365.60 L143.95,365.49 L143.24,365.38 L142.52,365.26 L141.80,365.15 L141.08,365.03 L140.36,364.91 L139.65,364.79 L138.93,364.67 L138.21,364.55 L137.49,364.43 L136.77,364.31 L136.06,364.19 L135.34,364.06 L134.62,363.94 L133.90,363.81 L133.18,363.68 L132.47,363.55 L131.75,363.42 L131.03,363.29 L130.31,363.16 L129.59,363.03 L128.88,362.90 L128.51,362.83 L128.16,362.77 L127.44,362.63 L126.72,362.50 L126.00,362.36 L125.29,362.23 L124.57,362.09 L123.85,361.95 L123.13,361.81 L122.41,361.67 L121.70,361.53 L120.98,361.39 L120.26,361.25 L119.54,361.11 L118.82,360.96 L118.11,360.82 L117.39,360.67 L116.67,360.52 L115.95,360.37 L115.23,360.22 L114.52,360.06 L113.80,359.91 L113.08,359.75 L112.36,359.59 L111.64,359.43 L110.92,359.26 L110.21,359.10 L109.49,358.93 L108.77,358.76 L108.05,358.59 L107.33,358.41 L106.62,358.24 L105.90,358.06 L105.65,358.00 L105.18,357.88 L104.46,357.69 L103.74,357.51 L103.03,357.32 L102.31,357.13 L101.59,356.93 L100.87,356.74 L100.15,356.53 L99.44,356.33 L98.72,356.12 L98.00,355.91 L97.28,355.69 L96.56,355.46 L95.85,355.23 L95.13,355.00 L94.41,354.76 L93.69,354.51 L92.97,354.26 L92.26,354.00 L91.54,353.74 L91.36,353.67 L90.82,353.46 L90.10,353.18 L89.38,352.90 L88.67,352.60 L87.95,352.29 L87.23,351.98 L86.51,351.65 L85.79,351.32 L85.08,350.97 L84.36,350.61 L83.64,350.24 L82.92,349.85 L82.20,349.45 L81.49,349.03 L80.77,348.60 L80.05,348.15 L79.93,348.07 L79.33,347.68 L78.61,347.17 L77.89,346.62 L77.18,346.05 L76.46,345.44 L75.74,344.80 L75.02,344.14 L74.30,343.46 L73.59,342.75 L72.87,342.02 L72.15,341.28 L71.43,340.52 L71.35,340.44 L70.71,339.74 L70.00,338.93 L69.28,338.08 L68.56,337.19 L67.84,336.26 L67.12,335.27 L66.41,334.22 L65.69,333.11 L65.49,332.80 L64.97,331.91 L64.25,330.57 L63.53,329.11 L62.82,327.56 L62.10,325.91 L61.78,325.17 L61.38,324.18 L60.66,322.28 L59.94,320.25 L59.23,318.15 L58.51,316.04 L58.49,316.00 L57.79,313.94 L57.07,311.78 L56.35,309.59 L55.64,307.35" fill="none" stroke="#0a4fb0" stroke-width="2.5" stroke-linejoin="round" stroke-linecap="round" />
<path d="M47.50,371.48 L48.15,374.86 L48.54,376.06 L48.81,376.49 L49.46,377.33 L50.11,377.87 L50.63,378.10 L50.76,378.14 L51.42,378.31 L52.07,378.44 L52.72,378.54 L53.37,378.59 L53.76,378.61 L54.03,378.62 L54.68,378.63 L55.33,378.65 L55.98,378.66 L56.64,378.67 L57.29,378.68 L57.94,378.69 L58.59,378.70 L59.25,378.71 L59.90,378.72 L60.55,378.73 L61.20,378.74 L61.86,378.74 L62.51,378.75 L63.16,378.75 L63.81,378.76 L64.47,378.76 L65.12,378.77 L65.77,378.77 L66.42,378.78 L67.08,378.78 L67.73,378.78 L68.38,378.79 L69.03,378.79 L69.69,378.79 L70.34,378.80 L70.99,378.80 L71.64,378.80 L72.30,378.81 L72.95,378.81 L73.60,378.82 L74.25,378.82 L74.91,378.83 L75.56,378.83 L76.21,378.84 L76.86,378.84 L77.52,378.85 L78.17,378.86 L78.79,378.86 L78.82,378.86 L79.47,378.87 L80.13,378.88 L80.78,378.89 L81.43,378.90 L82.08,378.91 L82.74,378.92 L83.39,378.93 L84.04,378.94 L84.69,378.95 L85.35,378.96 L86.00,378.97 L86.65,378.98 L87.30,378.99 L87.96,379.00 L88.61,379.01 L89.26,379.02 L89.91,379.03 L90.57,379.04 L91.22,379.05 L91.87,379.06 L92.52,379.07 L93.18,379.09 L93.83,379.10 L94.48,379.11 L95.13,379.12 L95.79,379.13 L96.44,379.14 L97.09,379.16 L97.74,379.17 L98.40,379.18 L99.05,379.19 L99.70,379.20 L100.35,379.22 L101.01,379.23 L101.66,379.24 L102.31,379.26 L102.97,379.27 L103.62,379.28 L104.27,379.29 L104.92,379.31 L105.58,379.32 L106.23,379.33 L106.88,379.35 L107.53,379.36 L108.19,379.37 L108.84,379.39 L109.49,379.40 L110.14,379.41 L110.80,379.43 L111.45,379.44 L112.10,379.45 L112.75,379.47 L113.41,379.48 L114.06,379.49 L114.71,379.51 L115.36,379.52 L116.02,379.53 L116.67,379.55 L117.32,379.56 L117.97,379.57 L118.63,379.59 L119.28,379.60 L119.93,379.62 L120.51,379.63 L120.58,379.63 L121.24,379.64 L121.89,379.66 L122.54,379.67 L123.19,379.68 L123.85,379.70 L124.50,379.71 L125.15,379.72 L125.80,379.74 L126.46,379.75 L127.11,379.77 L127.76,379.78 L128.41,379.79 L129.07,379.81 L129.72,379.82 L130.37,379.83 L131.02,379.85 L131.68,379.86 L132.33,379.88 L132.98,379.89 L133.63,379.90 L134.29,379.92 L134.94,379.93 L135.59,379.95 L136.24,379.96 L136.90,379.97 L137.55,379.99 L138.20,380.00 L138.85,380.02 L139.51,380.03 L140.16,380.05 L140.81,380.06 L141.46,380.08 L142.12,380.09 L142.77,380.11 L143.42,380.12 L144.07,380.14 L144.73,380.16 L145.38,380.17 L146.03,380.19 L146.68,380.20 L147.34,380.22 L147.99,380.24 L148.64,380.25 L149.29,380.27 L149.95,380.29 L150.60,380.30 L151.25,380.32 L151.90,380.34 L152.56,380.36 L153.21,380.38 L153.86,380.39 L154.51,380.41 L155.17,380.43 L155.82,380.45 L156.47,380.47 L157.13,380.49 L157.78,380.51 L158.43,380.53 L159.08,380.55 L159.74,380.57 L160.39,380.59 L161.04,380.61 L161.69,380.63 L162.23,380.65 L162.35,380.65 L163.00,380.67 L163.65,380.68 L164.30,380.70 L164.96,380.71 L165.61,380.72 L166.26,380.74 L166.91,380.75 L167.57,380.76 L168.22,380.78 L168.87,380.80 L169.52,380.82 L170.18,380.85 L170.83,380.88 L171.48,380.92 L172.13,380.96 L172.79,381.01 L173.44,381.07 L174.09,381.14 L174.22,381.15 L174.74,381.66 L174.75,381.66 L175.40,381.87 L176.05,381.99 L176.52,382.17 L176.70,382.35 L177.35,383.70" fill="none" stroke="#e250b8" stroke-width="2.5" stroke-linejoin="round" stroke-linecap="round" />
<path d="M177.35,383.70 L176.79,379.63 L176.64,379.25 L175.93,377.82 L175.22,376.92 L174.50,376.29 L174.23,376.06 L173.79,375.70 L173.08,375.17 L172.36,374.68 L171.65,374.25 L170.94,373.86 L170.23,373.51 L169.51,373.21 L168.80,372.94 L168.28,372.76 L168.09,372.70 L167.37,372.47 L166.66,372.26 L165.95,372.06 L165.24,371.86 L164.52,371.68 L163.81,371.51 L163.10,371.34 L162.38,371.18 L161.67,371.02 L160.96,370.88 L160.25,370.74 L159.53,370.60 L158.82,370.47 L158.11,370.34 L157.39,370.22 L156.68,370.10 L155.97,369.98 L155.26,369.87 L154.54,369.76 L153.83,369.64 L153.12,369.53 L152.41,369.42 L151.69,369.31 L150.98,369.20 L150.97,369.19 L150.27,369.08 L149.55,368.97 L148.84,368.87 L148.13,368.77 L147.42,368.67 L146.70,368.57 L145.99,368.48 L145.28,368.39 L144.56,368.30 L143.85,368.21 L143.14,368.12 L142.43,368.03 L141.71,367.95 L141.00,367.87 L140.29,367.78 L139.57,367.70 L138.86,367.62 L138.15,367.54 L137.44,367.45 L136.72,367.37 L136.01,367.29 L135.30,367.20 L134.59,367.11 L133.87,367.03 L133.16,366.94 L132.45,366.85 L131.73,366.75 L131.02,366.66 L130.31,366.56 L129.60,366.46 L129.13,366.39 L128.88,366.36 L128.17,366.25 L127.46,366.15 L126.74,366.04 L126.03,365.93 L125.32,365.82 L124.61,365.71 L123.89,365.60 L123.18,365.49 L122.47,365.38 L121.75,365.26 L121.04,365.15 L120.33,365.03 L119.62,364.91 L118.90,364.79 L118.19,364.67 L117.48,364.55 L116.77,364.43 L116.05,364.31 L115.34,364.19 L114.63,364.06 L113.91,363.94 L113.20,363.81 L112.49,363.68 L111.78,363.55 L111.06,363.42 L110.35,363.29 L109.64,363.16 L108.92,363.03 L108.21,362.90 L107.85,362.83 L107.50,362.77 L106.79,362.63 L106.07,362.50 L105.36,362.36 L104.65,362.23 L103.93,362.09 L103.22,361.95 L102.51,361.81 L101.80,361.67 L101.08,361.53 L100.37,361.39 L99.66,361.25 L98.95,361.11 L98.23,360.96 L97.52,360.82 L96.81,360.67 L96.09,360.52 L95.38,360.37 L94.67,360.22 L93.96,360.06 L93.24,359.91 L92.53,359.75 L91.82,359.59 L91.10,359.43 L90.39,359.26 L89.68,359.10 L88.97,358.93 L88.25,358.76 L87.54,358.59 L86.83,358.41 L86.11,358.24 L85.40,358.06 L85.15,358.00 L84.69,357.88 L83.98,357.69 L83.26,357.51 L82.55,357.32 L81.84,357.13 L81.12,356.93 L80.41,356.74 L79.70,356.53 L78.99,356.33 L78.27,356.12 L77.56,355.91 L76.85,355.69 L76.14,355.46 L75.42,355.23 L74.71,355.00 L74.00,354.76 L73.28,354.51 L72.57,354.26 L71.86,354.00 L71.15,353.74 L70.97,353.67 L70.43,353.46 L69.72,353.18 L69.01,352.90 L68.29,352.60 L67.58,352.29 L66.87,351.98 L66.16,351.65 L65.44,351.32 L64.73,350.97 L64.02,350.61 L63.30,350.24 L62.59,349.85 L61.88,349.45 L61.17,349.03 L60.45,348.60 L59.74,348.15 L59.62,348.07 L59.03,347.68 L58.32,347.17 L57.60,346.62 L56.89,346.05 L56.18,345.44 L55.46,344.80 L54.75,344.14 L54.04,343.46 L53.33,342.75 L52.61,342.02 L51.90,341.28 L51.19,340.52 L51.11,340.44 L50.47,339.74 L49.76,338.93 L49.05,338.08 L48.34,337.19 L47.62,336.26 L46.91,335.27 L46.20,334.22 L45.48,333.11 L45.29,332.80 L44.77,331.91 L44.06,330.57 L43.35,329.11 L42.63,327.56 L41.92,325.91 L41.60,325.17 L41.21,324.18 L40.50,322.28 L39.78,320.25 L39.07,318.15 L38.36,316.04 L38.34,316.00 L37.64,313.94 L36.93,311.78 L36.22,309.59 L35.51,307.35" fill="none" stroke="#e250b8" stroke-width="2.5" stroke-linejoin="round" stroke-linecap="round" />
</g>
<rect x="192.30" y="244.20" width="4.80" height="4.80" fill="#000" />
<text transform="translate(237.40 249.00) scale(0.93 1)" font-size="10.5" text-anchor="end" font-weight="bold" fill="#000" >0 min</text>
<rect x="192.30" y="256.75" width="4.80" height="4.80" fill="#ff0a0a" />
<text transform="translate(237.40 261.55) scale(0.93 1)" font-size="10.5" text-anchor="end" font-weight="bold" fill="#000" >10 min</text>
<rect x="192.30" y="269.30" width="4.80" height="4.80" fill="#10c010" />
<text transform="translate(237.40 274.10) scale(0.93 1)" font-size="10.5" text-anchor="end" font-weight="bold" fill="#000" >20 min</text>
<rect x="192.30" y="281.85" width="4.80" height="4.80" fill="#0a4fb0" />
<text transform="translate(237.40 286.65) scale(0.93 1)" font-size="10.5" text-anchor="end" font-weight="bold" fill="#000" >30 min</text>
<rect x="192.30" y="294.40" width="4.80" height="4.80" fill="#e250b8" />
<text transform="translate(237.40 299.20) scale(0.93 1)" font-size="10.5" text-anchor="end" font-weight="bold" fill="#000" >40 min</text>
<text transform="translate(281.30 214.90)" font-size="16" text-anchor="middle" font-weight="bold" fill="#000" >d</text>
<rect x="313.30" y="285.70" width="16.60" height="105.00" fill="#000" />
<rect x="329.90" y="313.74" width="16.40" height="76.96" fill="#ff0000" stroke="#000" stroke-width="0.7"/>
<rect x="354.10" y="274.07" width="16.60" height="116.63" fill="#000" />
<rect x="370.70" y="299.45" width="16.40" height="91.25" fill="#ff0000" stroke="#000" stroke-width="0.7"/>
<rect x="394.90" y="280.91" width="16.60" height="109.79" fill="#000" />
<rect x="411.50" y="297.46" width="16.40" height="93.24" fill="#ff0000" stroke="#000" stroke-width="0.7"/>
<rect x="435.70" y="294.14" width="16.60" height="96.56" fill="#000" />
<rect x="452.30" y="299.59" width="16.40" height="91.11" fill="#ff0000" stroke="#000" stroke-width="0.7"/>
<rect x="476.50" y="307.10" width="16.60" height="83.60" fill="#000" />
<rect x="493.10" y="300.98" width="16.40" height="89.72" fill="#ff0000" stroke="#000" stroke-width="0.7"/>
<path d="M329.90,376.74 L370.70,357.60 L411.50,330.89 L452.30,291.81 L493.10,239.97" fill="none" stroke="#1ec8d8" stroke-width="1.5" stroke-linejoin="round" stroke-linecap="round" />
<circle cx="329.90" cy="376.74" r="2.6" fill="#1ec8d8"/>
<circle cx="370.70" cy="357.60" r="2.6" fill="#1ec8d8"/>
<circle cx="411.50" cy="330.89" r="2.6" fill="#1ec8d8"/>
<circle cx="452.30" cy="291.81" r="2.6" fill="#1ec8d8"/>
<circle cx="493.10" cy="239.97" r="2.6" fill="#1ec8d8"/>
<rect x="309.2" y="231.2" width="203.70" height="159.50" fill="none" stroke="#222" stroke-width="1.3"/>
<line x1="305.70" y1="390.70" x2="309.20" y2="390.70" stroke="#222" stroke-width="1.3" />
<text transform="translate(303.40 393.10) scale(0.7663 1)" font-size="10.0" text-anchor="end" font-weight="bold" fill="#000" >0</text>
<line x1="305.70" y1="364.12" x2="309.20" y2="364.12" stroke="#222" stroke-width="1.3" />
<text transform="translate(303.40 366.52) scale(0.7663 1)" font-size="10.0" text-anchor="end" font-weight="bold" fill="#000" >400</text>
<line x1="305.70" y1="337.53" x2="309.20" y2="337.53" stroke="#222" stroke-width="1.3" />
<text transform="translate(303.40 339.93) scale(0.7663 1)" font-size="10.0" text-anchor="end" font-weight="bold" fill="#000" >800</text>
<line x1="305.70" y1="310.95" x2="309.20" y2="310.95" stroke="#222" stroke-width="1.3" />
<text transform="translate(303.40 313.35) scale(0.7663 1)" font-size="10.0" text-anchor="end" font-weight="bold" fill="#000" >1200</text>
<line x1="305.70" y1="284.37" x2="309.20" y2="284.37" stroke="#222" stroke-width="1.3" />
<text transform="translate(303.40 286.77) scale(0.7663 1)" font-size="10.0" text-anchor="end" font-weight="bold" fill="#000" >1600</text>
<line x1="305.70" y1="257.78" x2="309.20" y2="257.78" stroke="#222" stroke-width="1.3" />
<text transform="translate(303.40 260.18) scale(0.7663 1)" font-size="10.0" text-anchor="end" font-weight="bold" fill="#000" >2000</text>
<line x1="305.70" y1="231.20" x2="309.20" y2="231.20" stroke="#222" stroke-width="1.3" />
<text transform="translate(303.40 233.60) scale(0.7663 1)" font-size="10.0" text-anchor="end" font-weight="bold" fill="#000" >2400</text>
<line x1="512.90" y1="390.70" x2="516.40" y2="390.70" stroke="#222" stroke-width="1.3" />
<text transform="translate(518.60 393.10) scale(0.79 1)" font-size="10.0" text-anchor="start" font-weight="bold" fill="#000" >70</text>
<line x1="512.90" y1="370.76" x2="516.40" y2="370.76" stroke="#222" stroke-width="1.3" />
<text transform="translate(518.60 373.16) scale(0.79 1)" font-size="10.0" text-anchor="start" font-weight="bold" fill="#000" >75</text>
<line x1="512.90" y1="350.82" x2="516.40" y2="350.82" stroke="#222" stroke-width="1.3" />
<text transform="translate(518.60 353.22) scale(0.79 1)" font-size="10.0" text-anchor="start" font-weight="bold" fill="#000" >80</text>
<line x1="512.90" y1="330.89" x2="516.40" y2="330.89" stroke="#222" stroke-width="1.3" />
<text transform="translate(518.60 333.29) scale(0.79 1)" font-size="10.0" text-anchor="start" font-weight="bold" fill="#000" >85</text>
<line x1="512.90" y1="310.95" x2="516.40" y2="310.95" stroke="#222" stroke-width="1.3" />
<text transform="translate(518.60 313.35) scale(0.79 1)" font-size="10.0" text-anchor="start" font-weight="bold" fill="#000" >90</text>
<line x1="512.90" y1="291.01" x2="516.40" y2="291.01" stroke="#222" stroke-width="1.3" />
<text transform="translate(518.60 293.41) scale(0.79 1)" font-size="10.0" text-anchor="start" font-weight="bold" fill="#000" >95</text>
<line x1="512.90" y1="271.07" x2="516.40" y2="271.07" stroke="#222" stroke-width="1.3" />
<text transform="translate(518.60 273.47) scale(0.79 1)" font-size="10.0" text-anchor="start" font-weight="bold" fill="#000" >100</text>
<line x1="512.90" y1="251.14" x2="516.40" y2="251.14" stroke="#222" stroke-width="1.3" />
<text transform="translate(518.60 253.54) scale(0.79 1)" font-size="10.0" text-anchor="start" font-weight="bold" fill="#000" >105</text>
<line x1="512.90" y1="231.20" x2="516.40" y2="231.20" stroke="#222" stroke-width="1.3" />
<text transform="translate(518.60 233.60) scale(0.79 1)" font-size="10.0" text-anchor="start" font-weight="bold" fill="#000" >110</text>
<line x1="329.90" y1="390.70" x2="329.90" y2="394.20" stroke="#222" stroke-width="1.3" />
<text transform="translate(330.50 403.60) scale(0.81 1)" font-size="10.2" text-anchor="middle" font-weight="bold" fill="#000" >0</text>
<line x1="370.70" y1="390.70" x2="370.70" y2="394.20" stroke="#222" stroke-width="1.3" />
<text transform="translate(371.30 403.60) scale(0.81 1)" font-size="10.2" text-anchor="middle" font-weight="bold" fill="#000" >10</text>
<line x1="411.50" y1="390.70" x2="411.50" y2="394.20" stroke="#222" stroke-width="1.3" />
<text transform="translate(412.10 403.60) scale(0.81 1)" font-size="10.2" text-anchor="middle" font-weight="bold" fill="#000" >20</text>
<line x1="452.30" y1="390.70" x2="452.30" y2="394.20" stroke="#222" stroke-width="1.3" />
<text transform="translate(452.90 403.60) scale(0.81 1)" font-size="10.2" text-anchor="middle" font-weight="bold" fill="#000" >30</text>
<line x1="493.10" y1="390.70" x2="493.10" y2="394.20" stroke="#222" stroke-width="1.3" />
<text transform="translate(493.70 403.60) scale(0.81 1)" font-size="10.2" text-anchor="middle" font-weight="bold" fill="#000" >40</text>
<text transform="translate(413.20 417.20) scale(0.9 1)" font-size="10.8" text-anchor="middle" font-weight="bold" fill="#000" >Lithiation Time (min)</text>
<text transform="translate(280.3 305.0) rotate(-90) scale(0.97 1)" font-size="10.8" text-anchor="middle" font-weight="bold">Specific Capacity (mAh g<tspan dy="-5.2" font-size="9">-1</tspan><tspan dy="5.2" dx="0.4">)</tspan></text>
<text transform="translate(537.00 313.80) rotate(90) scale(0.963 1)" font-size="10.8" text-anchor="middle" font-weight="bold" fill="#000" style="stroke-width:0.05px">Initial Coulombic Efficiency (%)</text>
<rect x="365.00" y="239.60" width="16.90" height="6.90" fill="#000" />
<rect x="365.30" y="250.40" width="16.30" height="6.30" fill="#ff0000" stroke="#000" stroke-width="0.7"/>
<line x1="365.00" y1="263.30" x2="380.50" y2="263.30" stroke="#1ec8d8" stroke-width="1.5" />
<circle cx="372.60" cy="263.30" r="2.5" fill="#1ec8d8"/>
<text transform="translate(384.10 245.60) scale(0.907 1)" font-size="10.8" text-anchor="start" font-weight="bold" fill="#000" style="stroke-width:0.05px">Lithiation</text>
<text transform="translate(384.10 256.00) scale(0.926 1)" font-size="10.8" text-anchor="start" font-weight="bold" fill="#000" style="stroke-width:0.05px">Delithiation</text>
<text transform="translate(385.60 266.50) scale(0.926 1)" font-size="10.8" text-anchor="start" font-weight="bold" fill="#000" style="stroke-width:0.05px">ICE</text>
</svg></body></html>
